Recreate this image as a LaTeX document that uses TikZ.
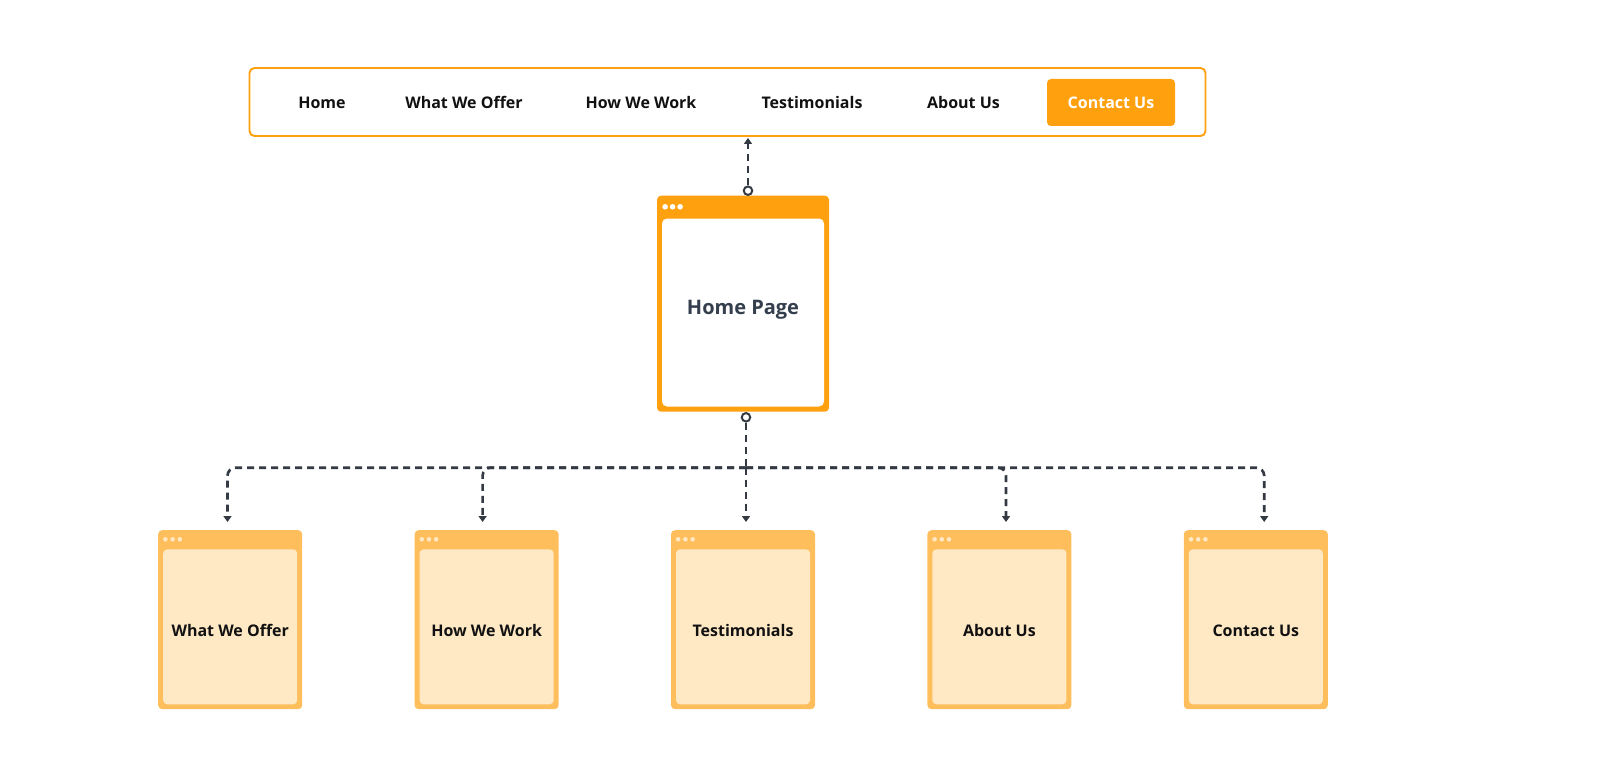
\documentclass[tikz,border=0pt]{standalone}
\usepackage{fontspec}
\setmainfont{Open Sans}
\usetikzlibrary{arrows.meta,positioning,calc}

\definecolor{navorange}{HTML}{FFA00F}
\definecolor{pageframe}{HTML}{FFBE5C}
\definecolor{pagefill}{HTML}{FFE8C4}
\definecolor{linkgray}{HTML}{343A43}
\definecolor{hometext}{HTML}{343E4C}
\definecolor{menutext}{HTML}{111111}

\begin{document}
\begin{tikzpicture}[x=1pt, y=-1pt,
 menu/.style={font=\fontsize{16}{19}\selectfont\bfseries, text=menutext,
 inner sep=0pt, anchor=base},
 navbar/.style={draw=navorange, line width=1.9pt, rounded corners=5pt,
 minimum width=956pt, minimum height=68pt, inner sep=0pt},
 button/.style={fill=navorange, rounded corners=4pt, minimum width=128pt,
 minimum height=47pt, inner sep=0pt, text=white, text height=12pt,
 text depth=0pt, font=\fontsize{16}{19}\selectfont\bfseries},
 homeframe/.style={fill=navorange, rounded corners=4pt, minimum width=172pt,
 minimum height=216pt, inner sep=0pt},
 homescreen/.style={fill=white, rounded corners=5pt, minimum width=162pt,
 minimum height=188pt, inner sep=0pt, text=hometext, text height=14pt,
 text depth=10.4pt, font=\fontsize{20}{24}\selectfont\bfseries},
 pagebox/.style={fill=pageframe, rounded corners=4pt, minimum width=144pt,
 minimum height=179pt, inner sep=0pt},
 pagescreen/.style={fill=pagefill, rounded corners=4pt, minimum width=134pt,
 minimum height=155pt, inner sep=0pt, text=menutext, text height=18.4pt,
 text depth=0pt, font=\fontsize{16}{19}\selectfont\bfseries},
 port/.style={circle, draw=linkgray, fill=white, line width=2pt,
 minimum size=8.5pt, inner sep=0pt},
 link/.style={draw=linkgray, line width=2.6pt, dash pattern=on 7pt off 5pt,
 -{Triangle[length=6pt, width=8pt]}}
]
\useasboundingbox (0,0) rectangle (1600,770);

% Navigation bar
\node[navbar] (nav) at (727.5,102) {};
\node[menu] (mhome) at (322,109) {Home};
\node[menu] (moffer) at (464,109) {What We Offer};
\node[menu] (mwork) at (641,109) {How We Work};
\node[menu] (mtest) at (812,109) {Testimonials};
\node[menu] (mabout) at (963.5,109) {About Us};
\node[button] (mcontact) at (1111,102.5) {Contact Us};

% Home page window
\node[homeframe] (home) at (743,303.7) {};
\node[homescreen] (homein) at (743,312.5) {Home Page};
\foreach \dx in {8.3,15.8,23.3}
 \fill[white] ($(home.north west)+(\dx,11.3)$) circle (2.8);

% Ports above and below the home page
\node[port] (up) at (748,190.7) {};
\node[port] (down) at (746,417.3) {};
\coordinate (hub) at (746,467.7);

\draw[link, shorten >=1pt] (up) -- (up |- nav.south);

% Sub pages
\foreach \x/\name/\lbl in {230.2/offer/What We Offer, 486.6/work/How We Work,
 743/test/Testimonials, 999.4/about/About Us, 1255.8/contact/Contact Us}{
 \node[pagebox] (\name) at (\x,619.7) {};
 \node[pagescreen] (\name-in) at (\x,626.8) {\lbl};
 \foreach \dx in {7.4,14.6,21.8}
 \fill[pagefill] ($(\name.north west)+(\dx,9.3)$) circle (2.3);
}

% Links from the home page
\draw[link, -] (down) -- (hub);
\draw[link, shorten >=8pt] (hub) -- (hub |- test.north);
\foreach \name/\dx in {offer/-2.7, work/-4, about/6.6, contact/8.4}
 \draw[link, rounded corners=8pt, shorten >=8pt]
 (hub) -| ($(\name.north)+(\dx,0)$);
\end{tikzpicture}
\end{document}
